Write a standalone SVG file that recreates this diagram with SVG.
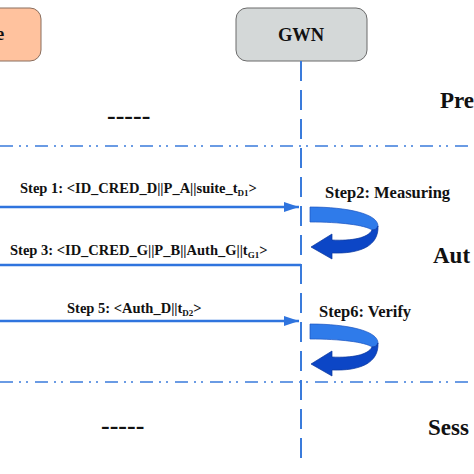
<svg xmlns="http://www.w3.org/2000/svg" width="474" height="474" viewBox="0 0 474 474">
<defs>
<style>
.lbl{font-family:"Liberation Serif","Times New Roman",serif;font-weight:bold;fill:#111}
.msg{font-size:14.5px}
.step{font-size:16.5px}
.phase{font-size:23px}
.sub{font-size:9px}
.life{stroke:#3A7BDB;stroke-width:2;stroke-dasharray:20 9;fill:none}
.sep{stroke:#3A7BDB;stroke-width:1.6;stroke-dasharray:13 6 2 5 2 7;fill:none}
.arr{stroke:#2F74DE;stroke-width:2.5;fill:none}
.light{fill:#2F7BEA;stroke:#1C55C0;stroke-width:0.7}
.dark{fill:#0C46C6;stroke:#0A379C;stroke-width:0.7}
</style>
<marker id="ah" viewBox="0 0 15 10" refX="15" refY="5" markerWidth="15" markerHeight="10" markerUnits="userSpaceOnUse" orient="auto">
<path d="M0,0 L15,5 L0,10 Z" fill="#2F74DE"/>
</marker>
<g id="curl">
<path class="light" d="M310,207 C348,207 378,214 378,226 C377,229 375,230 372,230 C365,225 340,222 310,222 Z"/>
<path class="dark" d="M378,226 C379,246 360,254 332,253 L332,259 L311,247 L332,234 L332,240 C352,241 368,238 372,230 C375,230 377,229 378,226 Z"/>
</g>
</defs>
<rect width="474" height="474" fill="#fff"/>

<g id="device">
<rect x="-90" y="8" width="131" height="53" rx="11" fill="#FFC29E" stroke="#8A6E5E" stroke-width="1"/>
<text class="lbl" x="-4" y="40" font-size="18.5">e</text>
</g>

<g id="gwn">
<rect x="236" y="8" width="131" height="53" rx="11" fill="#D4D8D8" stroke="#6B6B6B" stroke-width="1"/>
<text class="lbl" x="301" y="41" font-size="18.5" text-anchor="middle">GWN</text>
</g>

<g id="phases">
<text class="lbl phase" x="440" y="108">Pre</text>
<text class="lbl phase" x="433" y="263">Aut</text>
<text class="lbl phase" x="428" y="435">Sess</text>
<text class="lbl" x="107" y="124" font-size="26">-----</text>
<text class="lbl" x="101" y="434" font-size="26">-----</text>
</g>

<g id="connectors">
<line class="life" x1="301" y1="61" x2="301" y2="463"/>
<line class="sep" x1="0" y1="146" x2="474" y2="146"/>
<line class="sep" x1="0" y1="382" x2="474" y2="382"/>
<line class="arr" x1="0" y1="207" x2="299" y2="207" marker-end="url(#ah)"/>
<line class="arr" x1="0" y1="265" x2="301" y2="265"/>
<line class="arr" x1="0" y1="321" x2="299" y2="321" marker-end="url(#ah)"/>
<use href="#curl"/>
<use href="#curl" transform="translate(0,117)"/>
</g>

<g id="labels">
<text class="lbl msg" x="20" y="193">Step 1: &lt;ID_CRED_D||P_A||suite_t<tspan class="sub" dy="3">D1</tspan><tspan dy="-3">&gt;</tspan></text>
<text class="lbl msg" x="10" y="255">Step 3: &lt;ID_CRED_G||P_B||Auth_G||t<tspan class="sub" dy="3">G1</tspan><tspan dy="-3">&gt;</tspan></text>
<text class="lbl msg" x="67" y="313">Step 5: &lt;Auth_D||t<tspan class="sub" dy="3">D2</tspan><tspan dy="-3">&gt;</tspan></text>
<text class="lbl step" x="325" y="198">Step2: Measuring</text>
<text class="lbl step" x="319" y="317">Step6: Verify</text>
</g>
</svg>
